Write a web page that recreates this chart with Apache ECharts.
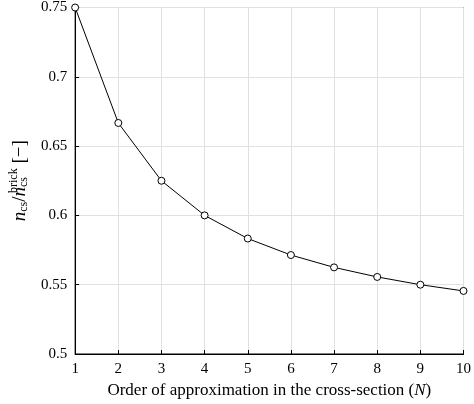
<!DOCTYPE html>
<html>
<head>
<meta charset="UTF-8">
<script src="https://cdn.jsdelivr.net/npm/echarts@6/dist/echarts.min.js"></script>
<style>html,body{margin:0;padding:0;background:#fff}</style>
</head>
<body>
<div id="main" style="width:474px;height:404px;"></div>
<script>
var orders = [1, 2, 3, 4, 5, 6, 7, 8, 9, 10];
var ratio = [0.75, 0.6667, 0.625, 0.6, 0.5833, 0.5714, 0.5625, 0.5556, 0.55, 0.5455];
var yTicks = [0.5, 0.55, 0.6, 0.65, 0.7, 0.75];

var font = 'Liberation Serif';
var chart = echarts.init(document.getElementById('main'));
var pts = orders.map(function (n, i) { return [n, ratio[i]]; });
chart.setOption({
    animation: false,
    grid: { left: 62, right: 8, top: 5, bottom: 48, show: true, borderColor: '#000', borderWidth: 1 },
    xAxis: {
        type: 'value', min: 1, max: 10, interval: 1,
        name: '{n|Order of approximation in the cross-section (}{i|N}{n|)}',
        nameLocation: 'middle', nameGap: 28,
        nameTextStyle: {
            fontFamily: font, fontSize: 17, color: '#000',
            rich: {
                n: { fontFamily: font, fontSize: 17, color: '#000' },
                i: { fontFamily: font, fontSize: 17, fontStyle: 'italic', color: '#000' }
            }
        },
        axisLine: { lineStyle: { color: '#000' } },
        axisTick: { inside: true, length: 4, lineStyle: { color: '#000' } },
        axisLabel: { fontFamily: font, fontSize: 15, color: '#000', margin: 8 },
        splitLine: { show: true, lineStyle: { color: '#e0e0e0' } }
    },
    yAxis: {
        type: 'value', min: 0.5, max: 0.75, interval: 0.05,
        name: '{i|n}{s|cs}{n|/}{i|n}{s|cs}{p|brick}{n| [\u2212]}',
        nameLocation: 'middle', nameGap: 38,
        nameTextStyle: {
            fontFamily: font, color: '#000',
            rich: {
                i: { fontFamily: font, fontStyle: 'italic', fontSize: 19, color: '#000' },
                n: { fontFamily: font, fontSize: 19, color: '#000' },
                s: { fontFamily: font, fontSize: 12, color: '#000', padding: [8, 0, 0, 0] },
                p: { fontFamily: font, fontSize: 12, color: '#000', padding: [0, 0, 12, -16] }
            }
        },
        axisLine: { show: true, lineStyle: { color: '#000' } },
        axisTick: { inside: true, length: 4, lineStyle: { color: '#000' } },
        axisLabel: {
            fontFamily: font, fontSize: 15, color: '#000',
            formatter: function (v) {
                var t = yTicks.find(function (y) { return Math.abs(y - v) < 1e-9; });
                return t === undefined ? '' : String(+t.toFixed(2));
            }
        },
        splitLine: { show: true, lineStyle: { color: '#e0e0e0' } }
    },
    series: [{
        type: 'line', data: pts,
        symbol: 'circle', symbolSize: 7,
        lineStyle: { color: '#000', width: 1 },
        itemStyle: { color: '#fff', borderColor: '#000', borderWidth: 1 }
    }]
});
</script>
</body>
</html>
